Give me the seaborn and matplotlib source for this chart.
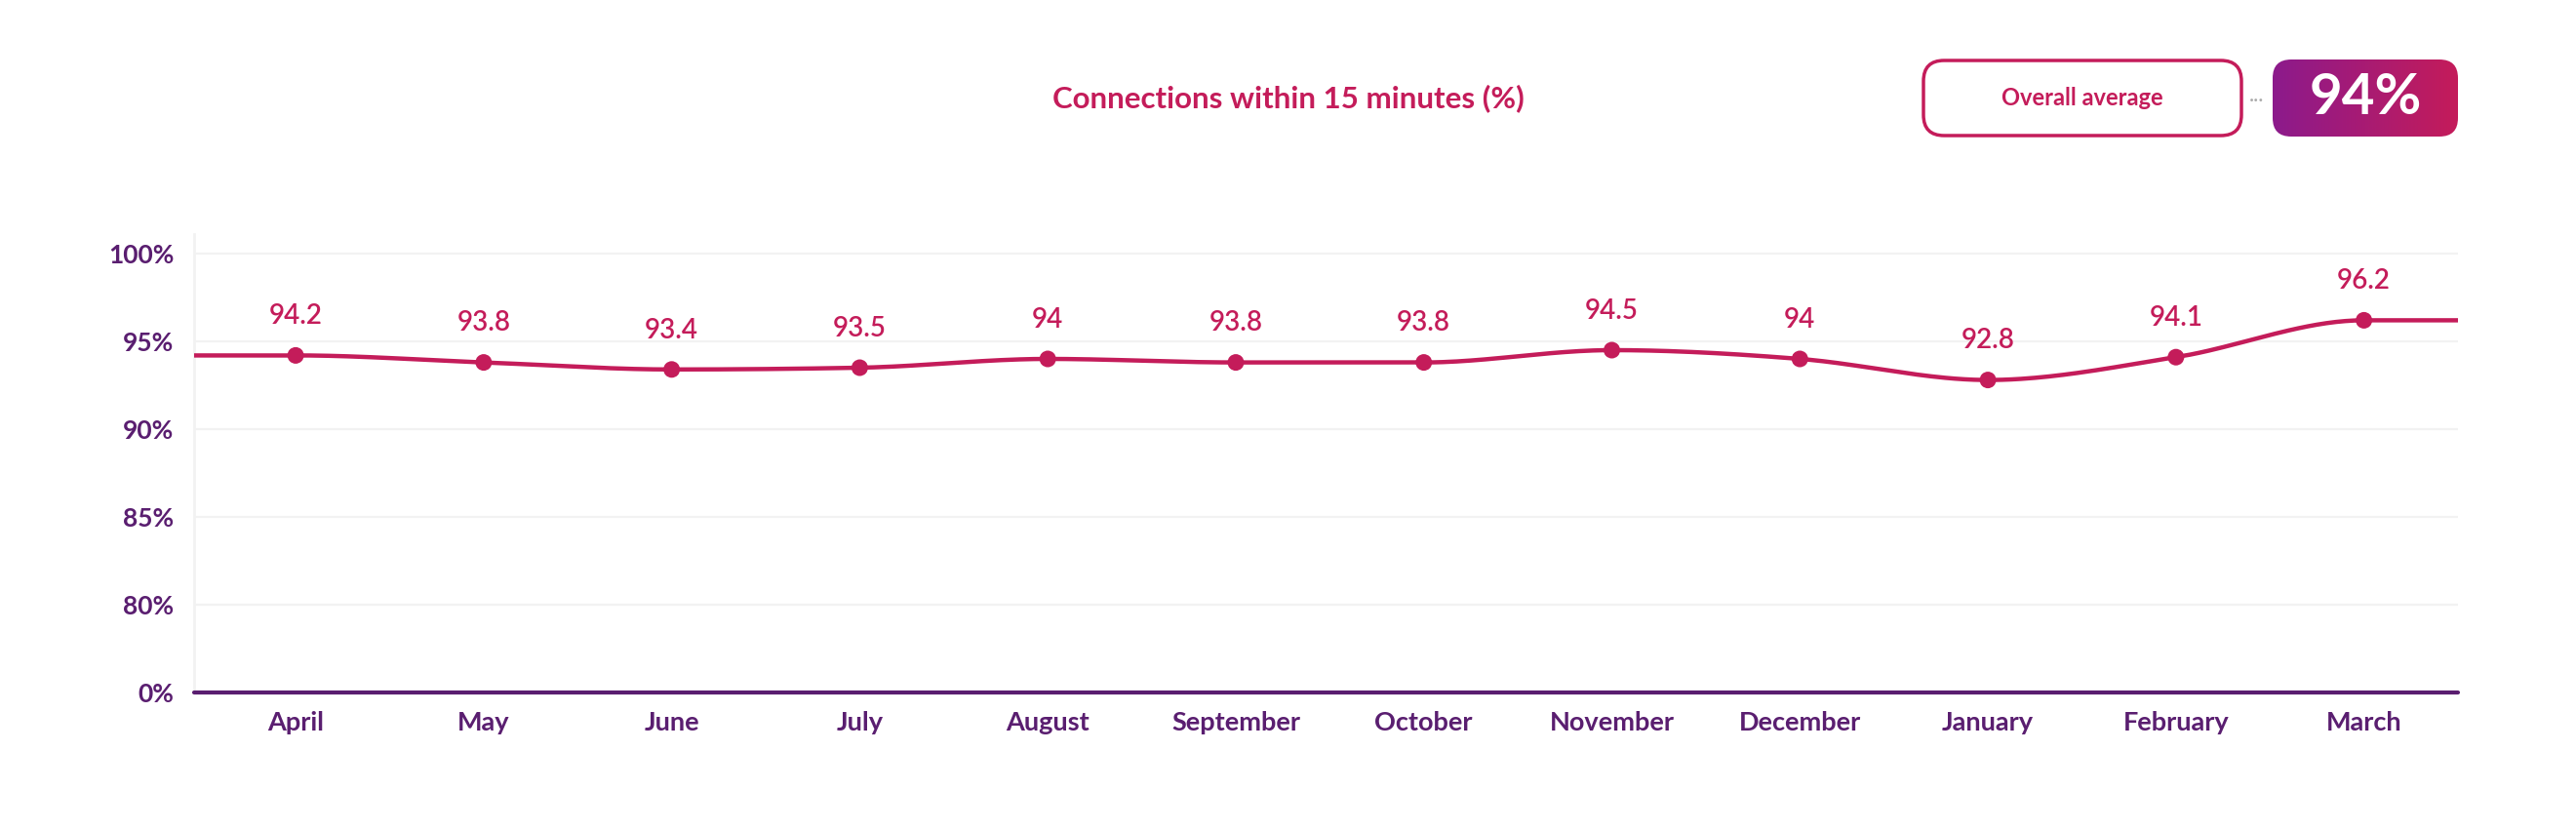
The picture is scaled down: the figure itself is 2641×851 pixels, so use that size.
import numpy as np
import pandas as pd
import matplotlib
matplotlib.use("Agg")
import matplotlib.pyplot as plt
from matplotlib.patches import FancyBboxPatch
import seaborn as sns

months = ["April", "May", "June", "July", "August", "September",
          "October", "November", "December", "January", "February", "March"]
values = [94.2, 93.8, 93.4, 93.5, 94.0, 93.8, 93.8, 94.5, 94.0, 92.8, 94.1, 96.2]
tick_values = [0, 80, 85, 90, 95, 100]
tick_labels = ["0%", "80%", "85%", "90%", "95%", "100%"]
title = "Connections within 15 minutes (%)"
badge_label = "Overall average"
badge_value = "94%"

CRIMSON = "#C41C5A"
PURPLE = "#5A1E70"
GRID = "#F2F2F2"

sns.set_style("white")
plt.rcParams["font.family"] = ["Lato", "DejaVu Sans"]


def to_axis(v):
    # broken axis: 0 -> 0, then 80..100 spread over 1..5
    v = np.asarray(v, dtype=float)
    return np.where(v >= 80, 1 + (v - 80) / 5, v / 80)


def monotone_curve(x, y, n=40):
    # Steffen monotone cubic (like d3 curveMonotoneX)
    x = np.asarray(x, float)
    y = np.asarray(y, float)
    h = np.diff(x)
    s = np.diff(y) / h
    t = np.zeros_like(y)
    for i in range(1, len(y) - 1):
        p = (s[i - 1] * h[i] + s[i] * h[i - 1]) / (h[i - 1] + h[i])
        t[i] = (np.sign(s[i - 1]) + np.sign(s[i])) * min(abs(s[i - 1]), abs(s[i]), 0.5 * abs(p))
    t[0] = s[0]
    t[-1] = s[-1]
    xs, ys = [], []
    for i in range(len(x) - 1):
        u = np.linspace(0, 1, n, endpoint=False)
        h00 = 2 * u**3 - 3 * u**2 + 1
        h10 = u**3 - 2 * u**2 + u
        h01 = -2 * u**3 + 3 * u**2
        h11 = u**3 - u**2
        xs.append(x[i] + u * h[i])
        ys.append(h00 * y[i] + h10 * h[i] * t[i] + h01 * y[i + 1] + h11 * h[i] * t[i + 1])
    xs.append([x[-1]])
    ys.append([y[-1]])
    return np.concatenate(xs), np.concatenate(ys)


pos = np.arange(len(months))
yv = to_axis(values)

# ghost points repeat the end values so the curve runs out to the plot edges
gx = np.concatenate([[pos[0] - 1], pos, [pos[-1] + 1]])
gy = np.concatenate([[yv[0]], yv, [yv[-1]]])
cx, cy = monotone_curve(gx, gy)
curve = pd.DataFrame({"x": cx, "y": cy})
points = pd.DataFrame({"x": pos, "y": yv, "label": [f"{v:g}" for v in values]})

W, H = 2641, 851
fig = plt.figure(figsize=(W / 100, H / 100), dpi=100)
ax = fig.add_axes([199 / W, 1 - 710 / H, (2520 - 199) / W, (710 - 240) / H])

ax.set_xlim(-0.54, 11.5)
ax.set_ylim(0, 5 + 20 / 90)

for g in to_axis(tick_values[1:]):
    ax.axhline(g, color=GRID, lw=1.6, zorder=0)

sns.lineplot(data=curve, x="x", y="y", ax=ax, color=CRIMSON, lw=3.2,
             sort=False, estimator=None, clip_on=True, zorder=3)
sns.scatterplot(data=points, x="x", y="y", ax=ax, color=CRIMSON, s=150,
                edgecolor="none", zorder=4)

for _, r in points.iterrows():
    ax.annotate(r["label"], (r["x"], r["y"]), xytext=(0, 29),
                textcoords="offset points", ha="center", va="center",
                fontsize=20, color=CRIMSON, fontweight="semibold")

ax.axhline(0, color=PURPLE, lw=3, zorder=5, clip_on=False)

ax.set_xticks(pos)
ax.set_xticklabels(months)
ax.set_yticks(to_axis(tick_values))
ax.set_yticklabels(tick_labels)
ax.tick_params(axis="both", length=0, colors=PURPLE, labelsize=19)
ax.tick_params(axis="x", pad=14, labelsize=19.5)
ax.tick_params(axis="y", pad=15)
for lab in ax.get_xticklabels() + ax.get_yticklabels():
    lab.set_fontweight("bold")
ax.set_xlabel("")
ax.set_ylabel("")

for side in ["top", "right", "bottom"]:
    ax.spines[side].set_visible(False)
ax.spines["left"].set_color(GRID)
ax.spines["left"].set_linewidth(2)

fig.text(0.5, 1 - 101 / H, title, ha="center", va="center",
         fontsize=22.5, color=CRIMSON, fontweight="bold")

# overall average badge, in pixel coordinates
def px(x, y):
    return x / W, 1 - y / H

bx0, bx1, by0, by1 = 1972, 2298, 62, 139
box = FancyBboxPatch(px(bx0, by1), (bx1 - bx0) / W, (by1 - by0) / H,
                     boxstyle="round,pad=0,rounding_size=0.008",
                     transform=fig.transFigure, facecolor="white",
                     edgecolor=CRIMSON, lw=2.5, mutation_aspect=W / H)
fig.add_artist(box)
fig.text(*px((bx0 + bx1) / 2, 100), badge_label, ha="center", va="center",
         fontsize=17, color=CRIMSON, fontweight="bold")

fig.text(*px(2314, 102), "···", ha="center", va="center", fontsize=14, color="#AAAAAA")

vx0, vx1, vy0, vy1 = 2330, 2520, 61, 140
gax = fig.add_axes([vx0 / W, 1 - vy1 / H, (vx1 - vx0) / W, (vy1 - vy0) / H])
gax.axis("off")
grad = np.linspace(0, 1, 256).reshape(1, -1)
cmap = matplotlib.colors.LinearSegmentedColormap.from_list("g", ["#8C1A8C", CRIMSON])
img = gax.imshow(grad, aspect="auto", cmap=cmap, extent=[0, 1, 0, 1])
gax.set_xlim(0, 1)
gax.set_ylim(0, 1)
clip = FancyBboxPatch((0, 0), 1, 1, boxstyle="round,pad=0,rounding_size=0.1",
                      transform=gax.transAxes, facecolor="none", edgecolor="none",
                      mutation_aspect=(vx1 - vx0) / (vy1 - vy0))
gax.add_patch(clip)
img.set_clip_path(clip)
gax.text(0.5, 0.5, badge_value, ha="center", va="center", fontsize=42,
         color="white", fontweight="bold", transform=gax.transAxes)

fig.savefig("out.png", dpi=100, facecolor="white")
